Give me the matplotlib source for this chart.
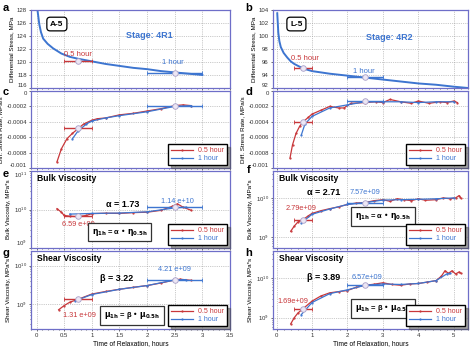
import matplotlib
matplotlib.use("Agg")
import matplotlib.pyplot as plt
from matplotlib.ticker import MultipleLocator, LogLocator, NullFormatter, FormatStrFormatter

RED = "#c8373a"
BLUE = "#3d75d0"
FRAME = "#6e6ec8"

# ---- panel a / b: differential stress ----
t_a = [0.02, 0.05, 0.08, 0.12, 0.2, 0.3, 0.45, 0.6, 0.75, 1.0, 1.25, 1.5, 1.75, 2.0, 2.25, 2.5, 2.75, 3.0]
s_a = [127.8, 125.8, 124.6, 123.6, 122.8, 122.1, 121.3, 120.8, 120.5, 120.1, 119.7, 119.4, 119.1, 118.9, 118.6, 118.4, 118.2, 118.0]
t_b = [0.02, 0.05, 0.08, 0.12, 0.2, 0.3, 0.4, 0.5, 0.75, 1.0, 1.5, 2.0, 2.5, 3.0, 3.5, 4.0, 4.5, 5.0, 5.4]
s_b = [103.5, 100.5, 99.2, 98.3, 97.4, 96.7, 96.1, 95.7, 95.0, 94.6, 94.2, 93.9, 93.6, 93.3, 93.0, 92.7, 92.5, 92.2, 92.0]

# ---- panel c / d: stress rate ----
c_red_t = [0.37, 0.45, 0.55, 0.65, 0.75, 0.85, 1.0, 1.1, 1.25, 1.5, 1.75, 2.0, 2.25, 2.5, 2.65, 2.8]
c_red_v = [-0.00092, -0.00075, -0.00062, -0.00055, -0.00049, -0.00043, -0.00038, -0.00036, -0.00035,
           -0.00031, -0.00029, -0.00026, -0.00023, -0.00019, -0.00018, -0.00019]
c_blue_t = [0.65, 0.75, 0.9, 1.0, 1.25, 1.5, 2.0, 2.5, 2.8]
c_blue_v = [-0.00062, -0.00052, -0.00043, -0.00039, -0.00035, -0.00032, -0.00027, -0.0002, -0.00019]

d_red_t = [0.38, 0.45, 0.55, 0.65, 0.75, 0.9, 1.0, 1.25, 1.5, 1.75, 1.9, 2.1, 2.5, 2.8, 3.0, 3.2, 3.5,
           3.8, 4.0, 4.3, 4.6, 4.8, 5.0, 5.1]
d_red_v = [-0.00087, -0.0007, -0.00055, -0.00046, -0.0004, -0.00034, -0.0003, -0.00025, -0.0002, -0.00022,
           -0.00022, -0.00016, -0.00015, -0.00014, -0.00015, -0.00011, -0.00014, -0.00016, -0.00013,
           -0.00016, -0.00014, -0.00015, -0.00013, -0.00015]
d_blue_t = [0.7, 0.8, 1.0, 1.5, 2.0, 2.5, 3.0, 3.5, 4.0, 4.5, 5.0]
d_blue_v = [-0.00057, -0.00043, -0.00033, -0.00022, -0.00018, -0.00014, -0.00014, -0.00014, -0.00015,
            -0.00014, -0.00014]

# ---- panel e / f: bulk viscosity ----
e_red_t = [0.37, 0.45, 0.5, 0.6, 0.75, 0.9, 1.0, 1.25, 1.5, 1.75, 2.0, 2.25, 2.45, 2.55, 2.65, 2.8]
e_red_v = [1.05e10, 8.5e9, 7e9, 6.7e9, 6.5e9, 7e9, 7.8e9, 8e9, 7.9e9, 8.3e9, 8.5e9, 9.5e9, 1.2e10, 1.4e10,
           1.15e10, 9.5e9]
e_blue_t = [0.6, 0.75, 1.0, 1.5, 2.0, 2.5, 2.7]
e_blue_v = [7.6e9, 7.7e9, 7.9e9, 8.1e9, 8.7e9, 1.1e10, 1.15e10]

f_red_t = [0.4, 0.5, 0.6, 0.75, 0.9, 1.0, 1.25, 1.5, 1.75, 2.0, 2.25, 2.5, 2.75, 3.0, 3.2, 3.4, 3.6, 3.8,
           4.0, 4.2, 4.5, 4.7, 4.9, 5.05, 5.15, 5.2]
f_red_v = [1.4e9, 1.9e9, 2.4e9, 2.8e9, 3.5e9, 4e9, 4.7e9, 5.3e9, 5.9e9, 6.8e9, 7.4e9, 7.6e9, 8.5e9, 9e9,
           8.2e9, 9.5e9, 9e9, 8.5e9, 9.5e9, 8.7e9, 9e9, 1.0e10, 9.5e9, 1.0e10, 1.15e10, 9.8e9]
f_blue_t = [0.7, 1.0, 1.5, 2.0, 2.5, 3.0, 3.5, 4.0, 4.5, 5.0]
f_blue_v = [2.3e9, 3.8e9, 5.2e9, 6.8e9, 7.6e9, 8.8e9, 9e9, 9.2e9, 9.5e9, 1.0e10]

# ---- panel g / h: shear viscosity ----
g_red_t = [0.4, 0.5, 0.6, 0.75, 1.0, 1.25, 1.5, 1.75, 2.0, 2.25, 2.5, 2.6, 2.8]
g_red_v = [7e8, 9e8, 1.1e9, 1.31e9, 1.8e9, 2.1e9, 2.4e9, 2.7e9, 3.0e9, 3.5e9, 4.2e9, 4.4e9, 4.1e9]
g_blue_t = [0.7, 1.0, 1.5, 2.0, 2.5, 2.7]
g_blue_v = [1.2e9, 1.75e9, 2.4e9, 3.0e9, 4.2e9, 4.3e9]

h_red_t = [0.4, 0.5, 0.6, 0.75, 1.0, 1.25, 1.5, 1.75, 2.0, 2.25, 2.5, 2.75, 3.0, 3.25, 3.5, 3.75, 4.0,
           4.25, 4.5, 4.65, 4.75, 4.85, 4.95, 5.05, 5.15, 5.2]
h_red_v = [7e8, 1.0e9, 1.3e9, 1.69e9, 2.6e9, 3.5e9, 4.2e9, 4.5e9, 4.8e9, 5.8e9, 6.5e9, 6.9e9, 7.5e9,
           6.8e9, 6.5e9, 7e9, 7.2e9, 7.8e9, 8.5e9, 1.1e10, 1.5e10, 1.3e10, 1.5e10, 1.25e10, 1.4e10, 1.3e10]
h_blue_t = [0.7, 1.0, 1.5, 2.0, 2.5, 3.0, 3.5, 4.0, 4.5, 4.8, 4.9]
h_blue_v = [1.2e9, 2.4e9, 4e9, 5e9, 6.5e9, 7e9, 6.8e9, 7.2e9, 8.5e9, 1.25e10, 1.3e10]

# error bar points: (centre time, value)
err_a = [(0.75, 120.2), (2.5, 118.3)]
err_b = [(0.75, 95.1), (2.5, 93.7)]
err_c = [(0.75, -0.00048), (2.5, -0.00019)]
err_d = [(0.75, -0.0004), (2.5, -0.00013)]
err_e = [(0.75, 6.59e9), (2.5, 1.14e10)]
err_f = [(0.75, 2.79e9), (2.5, 7.57e9)]
err_g = [(0.75, 1.31e9), (2.5, 4.21e9)]
err_h = [(0.75, 1.69e9), (2.5, 6.57e9)]

plt.rcParams["font.family"] = "Liberation Sans"
fig = plt.figure(figsize=(4.74, 3.5), dpi=100)

cols = [(31, 230), (273, 468)]
rows = [(10, 88), (91, 168), (171, 248), (251, 329)]
W, H = 474, 350
axes = {}


def make_ax(r, c):
    x0, x1 = cols[c]
    y0, y1 = rows[r]
    ax = fig.add_axes([x0 / W, 1 - y1 / H, (x1 - x0) / W, (y1 - y0) / H])
    axes[(r, c)] = ax
    for s in ax.spines.values():
        s.set_color(FRAME)
        s.set_linewidth(0.9)
    ax.tick_params(labelsize=4.3, length=1.5, width=0.5, pad=1.5, colors="#333333")
    ax.tick_params(which="minor", length=1, width=0.4)
    ax.grid(True, which="major", linestyle=":", linewidth=0.5, color="#999999")
    if c == 0:
        ax.set_xlim(-0.1, 3.5)
        ax.xaxis.set_major_locator(MultipleLocator(0.5))
        ax.xaxis.set_minor_locator(MultipleLocator(0.1))
    else:
        ax.set_xlim(-0.1, 5.4)
        ax.xaxis.set_major_locator(MultipleLocator(1))
        ax.xaxis.set_minor_locator(MultipleLocator(0.2))
    ax.xaxis.set_major_formatter(FormatStrFormatter("%g"))
    if r < 3:
        ax.tick_params(labelbottom=False)
    else:
        ax.set_xlabel("Time of Relaxation, hours", fontsize=4.8, labelpad=1.5)
    return ax


def errbars(ax, pts):
    for (x, y), col in zip(pts, [RED, BLUE]):
        ax.errorbar(x, y, xerr=0.25 if col == RED else 0.5, color=col, lw=1.0, capsize=1.5, capthick=0.8,
                    marker="o", ms=4, mfc="#ece6f4", mec="#a8a0c8", mew=0.6, zorder=5)


def curves(ax, rt, rv, bt, bv):
    ax.plot(rt, rv, color=RED, lw=0.9, marker=".", ms=1.2, label="0.5 hour", zorder=3)
    ax.plot(bt, bv, color=BLUE, lw=0.9, marker=".", ms=1.2, label="1 hour", zorder=3)


def legend(ax):
    leg = ax.legend(loc="lower right", fontsize=5.0, frameon=True, fancybox=False, shadow=True,
                    borderpad=0.4, handlelength=3.2, labelspacing=0.2, borderaxespad=0.4)
    leg.get_frame().set_edgecolor("black")
    leg.get_frame().set_linewidth(1.0)
    for t, col in zip(leg.get_texts(), [RED, BLUE]):
        t.set_color(col)


def eqbox(ax, x, y, sym, coef):
    ax.text(x, y, r"$\mathbf{%s_{1h}}$ = %s • $\mathbf{%s_{0.5h}}$" % (sym, coef, sym), fontsize=5.5,
            fontweight="bold", ha="center", va="center",
            bbox=dict(boxstyle="square,pad=0.5", fc="white", ec="#333333", lw=0.9))


# a
ax = make_ax(0, 0)
ax.plot(t_a, s_a, color=BLUE, lw=1.4)
errbars(ax, err_a)
ax.set_ylim(116, 128)
ax.yaxis.set_major_locator(MultipleLocator(2))
ax.set_ylabel("Differential Stress, MPa", fontsize=4.5, labelpad=2)
ax.text(0.13, 0.82, "A-5", transform=ax.transAxes, fontsize=6, fontweight="bold", ha="center", va="center",
        bbox=dict(boxstyle="round,pad=0.4", fc="white", ec="black", lw=0.9))
ax.text(2.05, 124, "Stage: 4R1", color=BLUE, fontsize=6.5, fontweight="bold", ha="center", va="center")
ax.text(0.75, 121.2, "0.5 hour", color=RED, fontsize=5.5, ha="center", va="center")
ax.text(2.47, 120.0, "1 hour", color=BLUE, fontsize=5.5, ha="center", va="center")

# b
ax = make_ax(0, 1)
ax.plot(t_b, s_b, color=BLUE, lw=1.4)
errbars(ax, err_b)
ax.set_ylim(92, 104)
ax.yaxis.set_major_locator(MultipleLocator(2))
ax.set_ylabel("Differential Stress, MPa", fontsize=4.5, labelpad=2)
ax.text(0.12, 0.82, "L-5", transform=ax.transAxes, fontsize=6, fontweight="bold", ha="center", va="center",
        bbox=dict(boxstyle="round,pad=0.4", fc="white", ec="black", lw=0.9))
ax.text(3.17, 99.8, "Stage: 4R2", color=BLUE, fontsize=6.5, fontweight="bold", ha="center", va="center")
ax.text(0.8, 96.6, "0.5 hour", color=RED, fontsize=5.5, ha="center", va="center")
ax.text(2.45, 94.6, "1 hour", color=BLUE, fontsize=5.5, ha="center", va="center")

# c, d
for col, (rt, rv, bt, bv, ep) in enumerate([(c_red_t, c_red_v, c_blue_t, c_blue_v, err_c),
                                           (d_red_t, d_red_v, d_blue_t, d_blue_v, err_d)]):
    ax = make_ax(1, col)
    curves(ax, rt, rv, bt, bv)
    errbars(ax, ep)
    ax.set_ylim(-0.001, 0)
    ax.set_yticks([-0.001, -0.0008, -0.0006, -0.0004, -0.0002, 0])
    ax.set_yticklabels(["-0.001", "-0.0008", "-0.0006", "-0.0004", "-0.0002", "0"])
    ax.set_ylabel("Diff. Stress Rate, MPa/s", fontsize=4.5, labelpad=2)
    legend(ax)


def logax(ax, lo, hi):
    ax.set_yscale("log")
    ax.set_ylim(lo, hi)
    ax.yaxis.set_major_locator(LogLocator(base=10))
    ax.yaxis.set_minor_formatter(NullFormatter())


# e
ax = make_ax(2, 0)
curves(ax, e_red_t, e_red_v, e_blue_t, e_blue_v)
errbars(ax, err_e)
logax(ax, 1e9, 1e11)
ax.set_ylabel("Bulk Viscosity, MPa*s", fontsize=4.5, labelpad=2)
legend(ax)
ax.text(0.03, 0.9, "Bulk Viscosity", transform=ax.transAxes, fontsize=6.2, fontweight="bold", va="center")
ax.text(1.55, 1.35e10, "α = 1.73", fontsize=6.5, fontweight="bold", ha="center", va="center")
ax.text(0.75, 4.1e9, "6.59 e+09", color=RED, fontsize=5.3, ha="center", va="center")
ax.text(2.55, 1.65e10, "1.14 e+10", color=BLUE, fontsize=5.3, ha="center", va="center")
eqbox(ax, 1.5, 2.6e9, r"\eta", "α")

# f
ax = make_ax(2, 1)
curves(ax, f_red_t, f_red_v, f_blue_t, f_blue_v)
errbars(ax, err_f)
logax(ax, 5.2e8, 4.9e10)
ax.set_ylabel("Bulk Viscosity, MPa*s", fontsize=4.5, labelpad=2)
legend(ax)
ax.text(0.03, 0.9, "Bulk Viscosity", transform=ax.transAxes, fontsize=6.2, fontweight="bold", va="center")
ax.text(1.33, 1.35e10, "α = 2.71", fontsize=6.5, fontweight="bold", ha="center", va="center")
ax.text(0.7, 5.5e9, "2.79e+09", color=RED, fontsize=5.3, ha="center", va="center")
ax.text(2.5, 1.35e10, "7.57e+09", color=BLUE, fontsize=5.3, ha="center", va="center")
eqbox(ax, 3.0, 3.3e9, r"\eta", "α")

# g
ax = make_ax(3, 0)
curves(ax, g_red_t, g_red_v, g_blue_t, g_blue_v)
errbars(ax, err_g)
logax(ax, 2.2e8, 2.4e10)
ax.set_ylabel("Shear Viscosity, MPa*s", fontsize=4.5, labelpad=2)
legend(ax)
ax.text(0.03, 0.9, "Shear Viscosity", transform=ax.transAxes, fontsize=6.2, fontweight="bold", va="center")
ax.text(1.45, 4.5e9, "β = 3.22", fontsize=6.5, fontweight="bold", ha="center", va="center")
ax.text(0.77, 5.1e8, "1.31 e+09", color=RED, fontsize=5.3, ha="center", va="center")
ax.text(2.5, 8e9, "4.21 e+09", color=BLUE, fontsize=5.3, ha="center", va="center")
eqbox(ax, 1.72, 5e8, r"\mu", "β")

# h
ax = make_ax(3, 1)
curves(ax, h_red_t, h_red_v, h_blue_t, h_blue_v)
errbars(ax, err_h)
logax(ax, 5.2e8, 4.7e10)
ax.set_ylabel("Shear Viscosity, MPa*s", fontsize=4.5, labelpad=2)
legend(ax)
ax.text(0.03, 0.9, "Shear Viscosity", transform=ax.transAxes, fontsize=6.2, fontweight="bold", va="center")
ax.text(1.33, 1.0e10, "β = 3.89", fontsize=6.5, fontweight="bold", ha="center", va="center")
ax.text(0.45, 2.6e9, "1.69e+09", color=RED, fontsize=5.3, ha="center", va="center")
ax.text(2.55, 1.0e10, "6.57e+09", color=BLUE, fontsize=5.3, ha="center", va="center")
eqbox(ax, 3.0, 1.7e9, r"\mu", "β")

# panel letters
for lab, x, y in [("a", 6, 8), ("b", 249, 8), ("c", 6, 92), ("d", 249, 92),
                  ("e", 6, 174), ("f", 249, 170), ("g", 6, 253), ("h", 249, 253)]:
    fig.text(x / W, 1 - y / H, lab, fontsize=8, fontweight="bold", ha="center", va="center")

# keep stacked panels' edge tick labels from running into each other
fig.canvas.draw()
for (r, c), ax in axes.items():
    lo, hi = ax.get_ylim()
    for tick in ax.yaxis.get_major_ticks():
        v = tick.get_loc()
        if r < 3 and abs(v - lo) <= 1e-12 * max(abs(lo), 1) + (1e-9 if lo < 0 else 0):
            tick.label1.set_verticalalignment("bottom")
        if r > 0 and abs(v - hi) <= 1e-9 * max(abs(hi), 1):
            tick.label1.set_verticalalignment("top")

fig.savefig("out.png", dpi=100)
